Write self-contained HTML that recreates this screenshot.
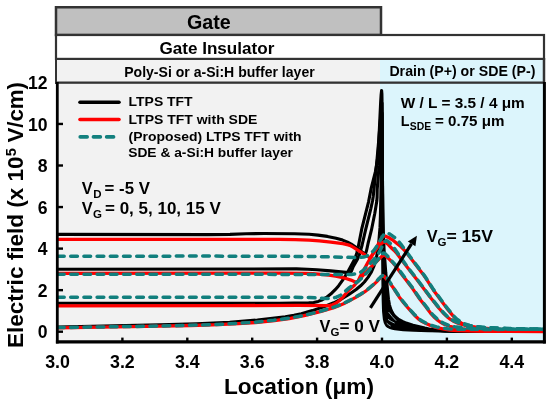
<!DOCTYPE html>
<html><head><meta charset="utf-8"><style>
html,body{margin:0;padding:0;background:#fff;width:550px;height:404px;overflow:hidden}
svg{display:block}
</style></head><body><svg width="550" height="404" viewBox="0 0 550 404" font-family='"Liberation Sans", Arial, sans-serif' font-weight="bold" fill="#000"><rect x="0" y="0" width="550" height="404" fill="#ffffff"/><rect x="56" y="7.25" width="325" height="27.75" fill="#c0c0c0" stroke="#333333" stroke-width="2.5"/><rect x="56" y="35.0" width="488" height="23.9" fill="#ffffff" stroke="#333333" stroke-width="2.2"/><rect x="57" y="59.5" width="323" height="22.5" fill="#f2f2f2"/><rect x="380" y="59.5" width="163" height="22.5" fill="#dcf5fc"/><line x1="55" y1="58.9" x2="545" y2="58.9" stroke="#333333" stroke-width="2.0"/><line x1="56" y1="58" x2="56" y2="84" stroke="#333333" stroke-width="2"/><line x1="544" y1="58" x2="544" y2="84" stroke="#333333" stroke-width="2.5"/><line x1="55" y1="82.8" x2="545" y2="82.8" stroke="#333333" stroke-width="2.4"/><rect x="58" y="83.8" width="322" height="257" fill="#f2f2f2"/><rect x="380" y="83.8" width="163" height="257" fill="#dcf5fc"/><clipPath id="pc"><rect x="57.5" y="82" width="486.8" height="259.8"/></clipPath><g clip-path="url(#pc)" fill="none" stroke-linejoin="round"><path d="M383.6,240.0 385.5,270.0 388.4,298.8 389.3,303.9 390.2,307.6 391.6,311.3 393.2,314.2 395.4,316.8 398.6,319.4 403.5,322.0 407.4,323.5 414.2,325.5 427.6,328.7 434.9,329.9 444.5,330.9 418.1,330.4 401.1,329.5 395.0,328.7 391.4,327.8 388.4,326.7 386.6,325.0 385.3,322.5 384.6,319.7 383.8,313.3 383.4,306.2 383.0,287.9 382.7,240.2 383.6,240.0Z" fill="#000" stroke="none"/><path d="M57.5,327.0 159.8,324.8 196.5,323.8 229.7,322.2 244.3,321.1 257.4,320.0 285.3,316.8 293.9,315.3 301.3,313.7 312.3,310.6 323.9,306.7 333.8,302.8 341.5,299.0 348.1,295.0 356.1,289.5 360.6,285.8 364.4,282.0 368.2,277.1 371.1,272.5 373.7,266.7 375.6,261.0 377.1,254.2 378.3,246.9 379.1,238.7 380.0,227.4 380.4,216.4 380.9,195.0 381.4,155.4 381.6,152.0 382.0,150.0 382.2,153.0 382.4,166.4 382.9,279.5 383.2,299.5 383.6,311.5 384.4,319.0 385.3,322.5 386.2,324.4 387.0,325.5 387.9,326.3 389.5,327.2 392.6,328.2 395.0,328.7 403.3,329.7 413.8,330.3 428.2,330.7 448.5,330.9 545.0,331.3" stroke="#000000" stroke-width="3.1"/><path d="M57.5,303.2 279.6,303.2 308.8,302.9 313.7,302.5 318.2,301.4 322.4,299.7 326.4,297.4 330.7,294.1 335.2,289.7 338.7,285.7 342.3,280.7 346.8,273.7 354.5,259.4 355.6,256.8 356.8,252.9 358.2,247.1 361.8,228.7 368.5,202.1 371.1,188.7 375.5,171.3 376.7,164.7 377.8,156.7 378.4,149.4 380.7,101.4 381.1,95.0 381.6,90.5 381.9,94.0 382.0,99.6 382.4,218.0 382.9,251.3 383.8,284.8 384.6,300.2 385.5,308.8 386.4,313.6 387.1,316.2 388.0,318.5 389.3,320.7 391.5,323.1 393.5,324.5 396.6,325.7 400.6,327.0 404.9,327.9 409.8,328.7 423.5,330.1 440.5,330.8 458.1,331.1 545.0,331.3" stroke="#000000" stroke-width="3.1"/><path d="M57.5,269.2 296.4,268.9 307.4,269.2 317.1,269.7 330.7,270.9 346.0,272.4 348.6,272.8 349.8,272.8 350.3,272.6 351.4,271.3 353.3,266.5 357.6,258.9 358.9,256.0 360.0,252.7 362.1,245.0 365.7,229.3 370.9,208.3 372.5,201.0 373.2,196.5 376.9,160.8 378.9,138.5 381.2,110.3 382.0,103.0 382.2,114.9 382.4,182.4 382.7,223.6 383.0,243.7 383.6,259.9 385.3,286.0 386.0,294.2 387.0,301.7 387.9,306.5 388.9,310.4 390.2,313.7 391.9,316.5 394.0,318.9 397.0,321.2 400.4,322.8 404.8,324.4 410.8,326.0 419.6,327.9 427.1,329.2 434.3,330.1 447.3,330.9 464.4,331.3 545.0,331.3" stroke="#000000" stroke-width="3.1"/><path d="M57.5,234.4 207.8,234.6 230.0,234.4 246.0,233.7 264.0,233.5 294.7,233.8 309.2,234.3 318.0,235.1 327.4,236.4 336.1,238.2 342.6,240.1 347.6,242.1 351.2,244.0 355.9,247.3 364.1,253.6 365.0,253.8 365.7,253.0 366.5,250.8 368.0,243.7 371.5,229.7 374.8,213.3 376.8,201.1 377.1,197.1 377.2,189.4 379.1,165.2 381.4,123.5 382.1,113.0 382.3,123.6 382.5,181.1 382.8,208.7 383.3,232.2 384.1,250.3 385.8,273.0 388.5,299.4 389.4,304.6 390.4,308.3 391.9,311.9 393.6,314.7 395.4,316.8 398.1,319.0 402.3,321.4 406.1,323.1 413.0,325.2 424.8,328.1 430.9,329.4 437.5,330.2 445.8,330.9 458.9,331.2 545.0,331.3" stroke="#000000" stroke-width="3.1"/><path d="M57.5,327.8 160.5,326.2 190.2,325.5 212.6,324.8 238.2,323.6 255.5,322.5 274.4,320.6 289.2,318.6 304.1,315.7 320.2,311.7 333.8,307.6 338.8,305.7 343.5,303.7 348.8,301.1 355.7,297.4 360.4,294.6 364.9,291.7 368.7,288.8 372.9,285.2 376.3,282.1 381.6,276.4 382.4,275.7 382.9,275.6 383.3,275.7 384.2,276.4 390.7,284.3 393.1,287.5 399.2,296.9 403.8,302.9 408.7,308.7 414.8,315.5 418.3,318.8 422.2,321.6 426.5,323.8 432.1,326.1 437.9,327.8 444.1,329.1 449.9,330.0 456.9,330.5 473.1,331.1 485.9,331.3 545.0,331.6" stroke="#ff0000" stroke-width="3.3"/><path d="M57.5,305.8 230.5,305.6 298.4,305.4 326.2,305.7 330.0,305.4 332.4,304.8 334.8,303.9 337.0,302.5 339.5,300.5 342.8,297.1 349.0,290.0 354.7,285.0 361.5,277.0 368.9,269.1 380.0,258.1 382.9,255.5 384.0,255.0 385.0,255.3 387.4,257.4 393.2,263.2 395.4,265.7 400.0,272.0 412.6,288.6 419.9,299.2 425.0,305.6 428.6,310.6 430.7,313.3 434.0,316.9 438.0,320.5 440.7,322.3 444.1,324.2 449.6,326.3 455.3,327.7 462.7,328.8 473.0,329.8 482.2,330.3 493.6,330.7 545.0,331.4" stroke="#ff0000" stroke-width="3.3"/><path d="M57.5,273.3 281.6,273.1 305.4,273.3 313.0,273.7 321.3,274.3 328.8,275.1 335.6,276.2 341.5,277.3 346.0,278.5 351.0,280.1 355.2,281.9 356.5,282.1 357.4,281.8 358.2,280.9 360.2,276.5 368.1,262.1 371.6,256.1 374.9,251.0 378.2,246.6 380.0,244.6 382.7,242.5 384.4,242.0 386.0,242.7 388.5,244.8 392.0,248.5 395.0,251.3 396.7,253.2 406.7,266.5 418.0,281.0 429.5,296.3 439.4,308.7 444.1,313.8 447.0,316.7 449.6,318.8 453.0,320.9 457.9,323.2 464.5,325.2 471.5,326.6 481.5,328.0 489.6,328.7 499.6,329.3 545.0,331.3" stroke="#ff0000" stroke-width="3.3"/><path d="M57.5,239.4 279.4,239.4 295.3,239.6 309.1,240.2 319.3,240.9 330.9,242.1 342.8,243.7 348.2,244.9 350.7,245.8 353.1,247.1 367.0,256.1 369.7,257.6 370.3,257.6 370.6,257.4 371.3,256.6 379.7,241.6 382.4,237.1 383.2,236.2 383.7,236.0 384.8,236.0 386.1,236.4 389.2,237.8 393.5,240.7 400.1,245.9 404.5,250.3 410.4,257.7 423.8,275.3 426.1,278.6 433.5,290.2 447.8,309.4 452.6,315.4 455.4,318.4 457.8,320.6 461.1,322.9 465.3,324.9 470.3,326.5 477.1,327.9 485.7,329.0 493.8,329.6 506.6,330.3 545.0,331.3" stroke="#ff0000" stroke-width="3.3"/><path d="M57.5,327.6 161.3,326.0 190.2,325.3 212.0,324.6 236.8,323.5 254.8,322.2 273.7,320.3 288.6,318.3 303.4,315.5 319.5,311.5 333.2,307.4 338.2,305.6 343.7,303.3 349.2,300.6 355.7,297.1 360.4,294.3 364.3,291.8 368.7,288.5 373.4,284.5 375.7,282.3 379.3,278.2 381.3,276.4 383.0,275.2 384.0,275.0 384.5,275.2 385.4,276.0 388.4,280.0 398.3,295.1 402.1,300.2 407.3,306.7 413.9,314.0 417.8,317.9 421.7,320.8 425.8,323.1 431.5,325.4 436.5,326.9 442.0,328.0 447.4,328.8 453.0,329.2 487.9,329.4 545.0,329.3" stroke="#117f7d" stroke-width="3.5" stroke-linecap="round" stroke-dasharray="6.7 6.5"/><path d="M57.5,297.3 293.5,297.3 310.1,297.5 326.1,298.6 331.3,298.4 336.3,297.2 338.8,296.1 340.5,295.2 343.1,293.2 349.4,287.6 359.4,280.3 363.4,276.5 368.9,270.6 374.0,264.5 382.7,253.5 383.5,253.0 384.0,253.1 385.0,253.6 386.9,255.4 395.4,265.0 413.0,288.5 419.9,298.6 425.0,305.0 430.3,312.0 433.6,315.6 438.0,319.7 440.7,321.6 444.1,323.5 448.9,325.4 454.7,326.8 461.2,327.6 472.5,328.5 492.9,329.1 545.0,329.3" stroke="#117f7d" stroke-width="3.5" stroke-linecap="round" stroke-dasharray="6.7 6.5"/><path d="M57.5,274.3 246.7,274.3 342.2,274.6 351.4,274.4 356.7,273.7 359.3,273.0 361.6,271.6 363.8,269.8 369.7,264.0 376.9,256.1 379.0,252.7 383.7,243.0 385.3,241.0 386.3,240.6 387.3,240.9 389.4,242.7 391.6,244.9 393.9,247.6 400.0,256.6 406.2,265.3 418.0,280.5 429.1,295.3 438.1,306.6 443.6,312.8 446.5,315.7 449.6,318.3 453.0,320.4 457.9,322.7 464.5,324.7 471.5,326.0 481.5,327.2 489.6,327.7 499.6,328.2 545.0,329.3" stroke="#117f7d" stroke-width="3.5" stroke-linecap="round" stroke-dasharray="6.7 6.5"/><path d="M57.5,256.2 209.2,256.1 281.2,256.3 318.4,256.6 354.5,257.5 360.0,257.4 363.6,257.1 366.0,256.4 368.3,255.1 372.0,252.2 374.2,250.0 376.1,247.4 378.9,242.9 381.2,238.6 383.4,235.1 384.2,234.2 385.3,233.5 386.6,233.0 387.7,233.1 389.9,234.1 394.1,237.1 397.5,240.3 400.6,243.8 408.7,254.9 424.2,275.3 433.5,289.6 447.4,308.4 452.2,314.2 454.9,317.3 457.3,319.5 460.6,321.8 464.7,323.8 469.6,325.4 475.7,326.4 484.6,327.5 505.5,328.6 545.0,329.3" stroke="#117f7d" stroke-width="3.5" stroke-linecap="round" stroke-dasharray="6.7 6.5"/><path d="M388.9,312.4 Q392,316.5 395.8,320.4" stroke="#a9c4c8" stroke-width="0.9" stroke-linecap="round"/><path d="M388.3,319.6 Q391,321.6 394.2,322.9" stroke="#a9c4c8" stroke-width="0.9" stroke-linecap="round"/><path d="M387.0,323.5 Q388.6,325 390.3,325.9" stroke="#a9c4c8" stroke-width="0.9" stroke-linecap="round"/></g><text x="187.0" y="29.2" font-size="20" text-anchor="start" textLength="43.8" lengthAdjust="spacingAndGlyphs" >Gate</text><text x="159.4" y="54.0" font-size="16.5" text-anchor="start" textLength="115" lengthAdjust="spacingAndGlyphs" >Gate Insulator</text><text x="124.2" y="77.0" font-size="14.2" text-anchor="start" textLength="190.5" lengthAdjust="spacingAndGlyphs" >Poly-Si or a-Si:H buffer layer</text><text x="389.4" y="76.0" font-size="14.2" text-anchor="start" textLength="146" lengthAdjust="spacingAndGlyphs" >Drain (P+) or SDE (P-)</text><line x1="57.3" y1="82" x2="57.3" y2="343.5" stroke="#000" stroke-width="2.8"/><line x1="55.9" y1="341.8" x2="545.8" y2="341.8" stroke="#000" stroke-width="3.2"/><line x1="544.4" y1="82" x2="544.4" y2="343.5" stroke="#000" stroke-width="3"/><line x1="57.5" y1="331.70" x2="63" y2="331.70" stroke="#000" stroke-width="2.4"/><text x="47.6" y="338.3" font-size="17.6" text-anchor="end" >0</text><line x1="57.5" y1="290.15" x2="63" y2="290.15" stroke="#000" stroke-width="2.4"/><text x="47.6" y="296.75" font-size="17.6" text-anchor="end" >2</text><line x1="57.5" y1="248.60" x2="63" y2="248.60" stroke="#000" stroke-width="2.4"/><text x="47.6" y="255.2" font-size="17.6" text-anchor="end" >4</text><line x1="57.5" y1="207.05" x2="63" y2="207.05" stroke="#000" stroke-width="2.4"/><text x="47.6" y="213.65" font-size="17.6" text-anchor="end" >6</text><line x1="57.5" y1="165.50" x2="63" y2="165.50" stroke="#000" stroke-width="2.4"/><text x="47.6" y="172.1" font-size="17.6" text-anchor="end" >8</text><line x1="57.5" y1="123.95" x2="63" y2="123.95" stroke="#000" stroke-width="2.4"/><text x="47.6" y="130.55" font-size="17.6" text-anchor="end" >10</text><text x="47.6" y="89.0" font-size="17.6" text-anchor="end" >12</text><line x1="122.40" y1="341.8" x2="122.40" y2="337.6" stroke="#000" stroke-width="2.4"/><line x1="187.30" y1="341.8" x2="187.30" y2="337.6" stroke="#000" stroke-width="2.4"/><line x1="252.20" y1="341.8" x2="252.20" y2="337.6" stroke="#000" stroke-width="2.4"/><line x1="317.10" y1="341.8" x2="317.10" y2="337.6" stroke="#000" stroke-width="2.4"/><line x1="382.00" y1="341.8" x2="382.00" y2="337.6" stroke="#000" stroke-width="2.4"/><line x1="446.90" y1="341.8" x2="446.90" y2="337.6" stroke="#000" stroke-width="2.4"/><line x1="511.80" y1="341.8" x2="511.80" y2="337.6" stroke="#000" stroke-width="2.4"/><text x="57.5" y="367.9" font-size="17.8" text-anchor="middle" >3.0</text><text x="122.4" y="367.9" font-size="17.8" text-anchor="middle" >3.2</text><text x="187.3" y="367.9" font-size="17.8" text-anchor="middle" >3.4</text><text x="252.2" y="367.9" font-size="17.8" text-anchor="middle" >3.6</text><text x="317.1" y="367.9" font-size="17.8" text-anchor="middle" >3.8</text><text x="382.0" y="367.9" font-size="17.8" text-anchor="middle" >4.0</text><text x="446.9" y="367.9" font-size="17.8" text-anchor="middle" >4.2</text><text x="511.8" y="367.9" font-size="17.8" text-anchor="middle" >4.4</text><text x="224.0" y="394.0" font-size="22.5" text-anchor="start" textLength="150" lengthAdjust="spacingAndGlyphs" >Location (μm)</text><text transform="translate(22.9,348.0) rotate(-90)" font-size="22.5" textLength="191.6" lengthAdjust="spacingAndGlyphs">Electric field (x 10</text><text transform="translate(16.3,156.3) rotate(-90)" font-size="14.5">5</text><text transform="translate(22.9,142.6) rotate(-90)" font-size="22.5" textLength="60.6" lengthAdjust="spacingAndGlyphs">V/cm)</text><line x1="80" y1="102.2" x2="119" y2="102.2" stroke="#000" stroke-width="3.6" stroke-linecap="round"/><line x1="80" y1="119.5" x2="119" y2="119.5" stroke="#ff0000" stroke-width="3.6" stroke-linecap="round"/><line x1="80.2" y1="136.9" x2="119" y2="136.9" stroke="#13807e" stroke-width="3.6" stroke-linecap="round" stroke-dasharray="7.0 6.2"/><text x="128.6" y="106.3" font-size="13.2" text-anchor="start" textLength="64" lengthAdjust="spacingAndGlyphs" >LTPS TFT</text><text x="128.6" y="123.6" font-size="13.2" text-anchor="start" textLength="128.8" lengthAdjust="spacingAndGlyphs" >LTPS TFT with SDE</text><text x="128.6" y="141.0" font-size="13.2" text-anchor="start" textLength="173" lengthAdjust="spacingAndGlyphs" >(Proposed) LTPS TFT with</text><text x="128.2" y="157.0" font-size="13.2" text-anchor="start" textLength="164.8" lengthAdjust="spacingAndGlyphs" >SDE &amp; a-Si:H buffer layer</text><text x="81.8" y="193.5" font-size="16.3" text-anchor="start" >V</text><text x="93.3" y="197.8" font-size="11.5" text-anchor="start" >D</text><text x="104.6" y="193.5" font-size="16.3" text-anchor="start" textLength="45.3" lengthAdjust="spacingAndGlyphs" >= -5 V</text><text x="81.8" y="213.5" font-size="16.3" text-anchor="start" >V</text><text x="93.1" y="217.9" font-size="11.5" text-anchor="start" >G</text><text x="105.0" y="213.5" font-size="16.3" text-anchor="start" textLength="115.8" lengthAdjust="spacingAndGlyphs" >= 0, 5, 10, 15 V</text><text x="400.8" y="107.7" font-size="14.3" text-anchor="start" textLength="124" lengthAdjust="spacingAndGlyphs" >W / L = 3.5 / 4 μm</text><text x="400.8" y="126.2" font-size="14.3" text-anchor="start" >L</text><text x="409.8" y="130.0" font-size="10.5" text-anchor="start" textLength="21.4" lengthAdjust="spacingAndGlyphs" >SDE</text><text x="435.0" y="126.2" font-size="14.3" text-anchor="start" textLength="69.5" lengthAdjust="spacingAndGlyphs" >= 0.75 μm</text><text x="426.8" y="241.8" font-size="16.3" text-anchor="start" >V</text><text x="437.6" y="245.6" font-size="11.5" text-anchor="start" >G</text><text x="446.4" y="241.8" font-size="16.3" text-anchor="start" textLength="46.5" lengthAdjust="spacingAndGlyphs" >= 15V</text><text x="319.4" y="332.3" font-size="16.3" text-anchor="start" >V</text><text x="330.4" y="336.2" font-size="11.5" text-anchor="start" >G</text><text x="339.4" y="332.3" font-size="16.3" text-anchor="start" textLength="40.5" lengthAdjust="spacingAndGlyphs" >= 0 V</text><line x1="370.4" y1="307.8" x2="411.5" y2="243.8" stroke="#000" stroke-width="3.2"/><polygon points="416.9,235.8 407.8,241.6 415.4,246.2" fill="#000"/></svg></body></html>
